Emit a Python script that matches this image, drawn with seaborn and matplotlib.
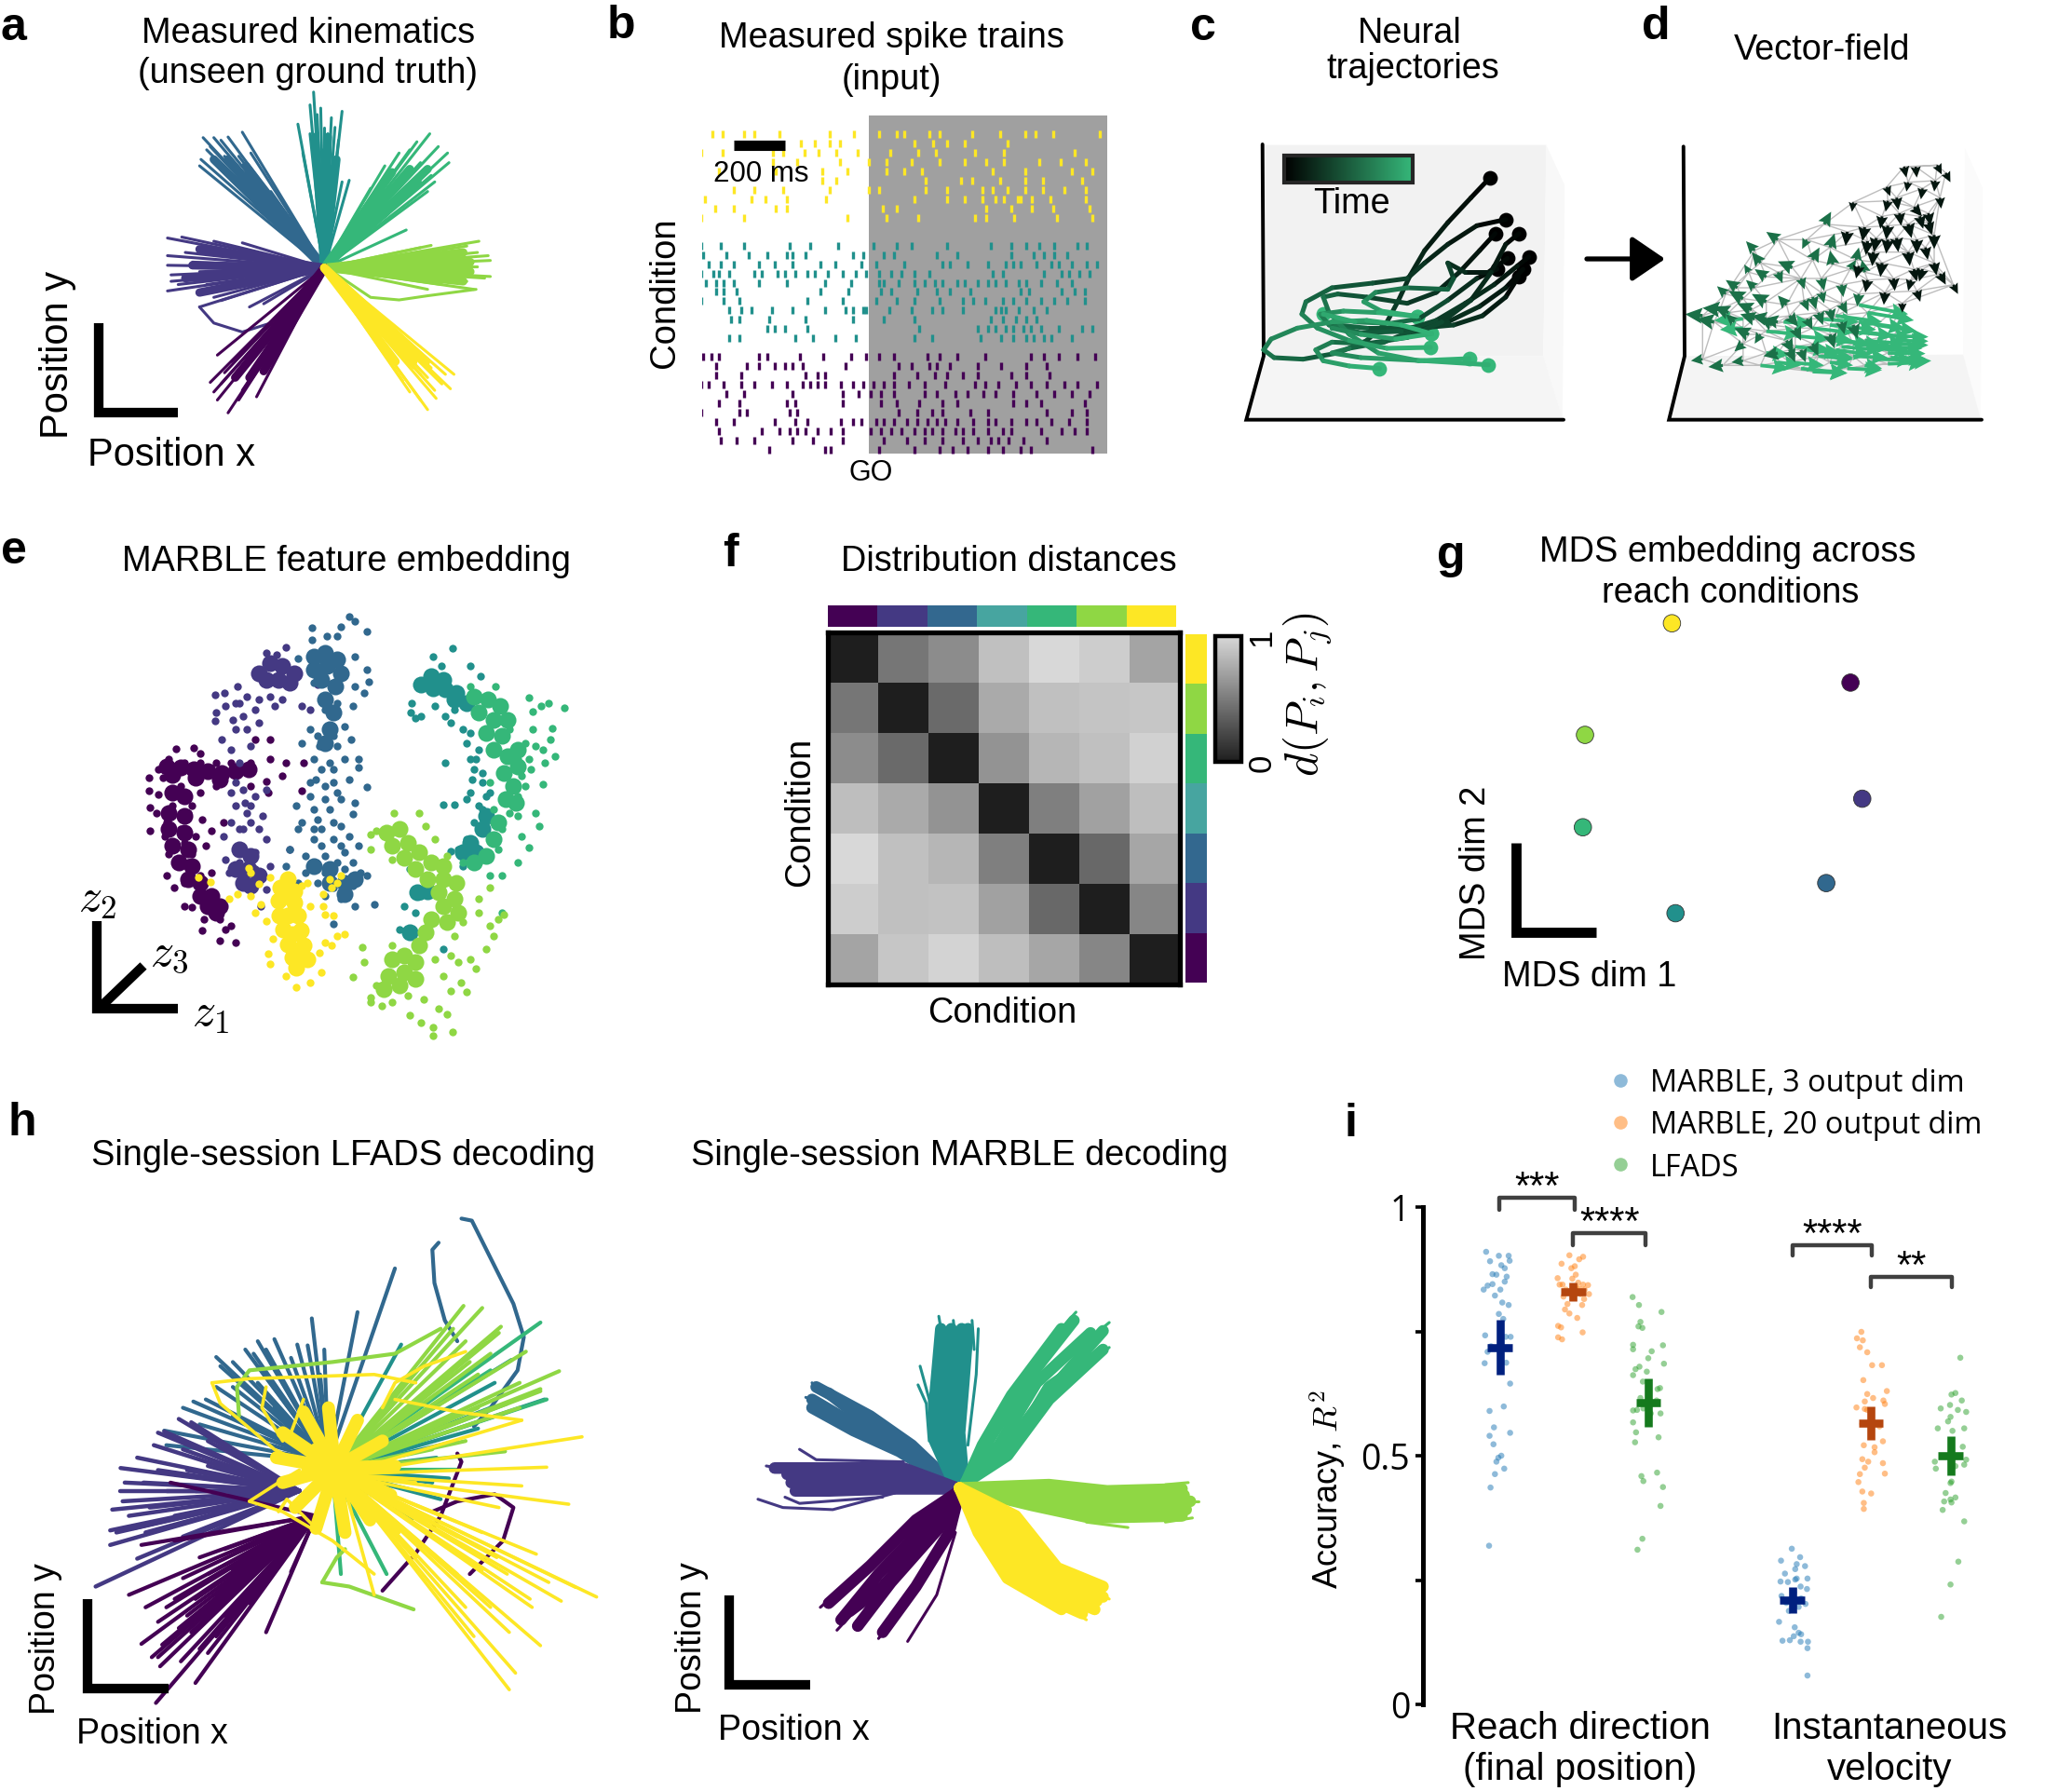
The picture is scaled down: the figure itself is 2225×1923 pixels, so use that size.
# Multi-panel figure: reach kinematics, spikes, embeddings and decoding accuracy
import numpy as np
import pandas as pd
import matplotlib
matplotlib.use("Agg")
import matplotlib.pyplot as plt
import matplotlib.tri as mtri
from matplotlib.cm import ScalarMappable
from matplotlib.colors import LinearSegmentedColormap, ListedColormap, Normalize
from matplotlib.lines import Line2D
import seaborn as sns

sns.set_style("white")
plt.rcParams["font.family"] = ["Liberation Sans", "DejaVu Sans"]
plt.rcParams["mathtext.fontset"] = "cm"
plt.rcParams["text.color"] = "black"
plt.rcParams["ytick.color"] = "black"

W, H = 2225, 1924

PURPLE = "#440154"
INDIGO = "#443983"
BLUE = "#31688e"
TEAL = "#21908c"
GREEN = "#35b779"
LGREEN = "#8fd744"
YELLOW = "#fde725"

# panel a: reach end points
a_origin = (455, 838)
a_blue = [(285,432),(300,432),(340,415),(282,500),(290,470),(310,440),(335,490),(280,520),(320,430),(295,460),(352,480),(300,510),(380,600),(315,490),(345,540)]
a_teal = [(440,290),(418,390),(480,350),(465,370),(450,340),(435,330),(455,400),(470,400),(425,480),(490,565),(480,570),(445,360),(460,420),(475,440),(435,420),(452,470)]
a_green = [(603,420),(585,445),(615,460),(628,480),(630,510),(610,570),(600,600),(560,480),(540,520),(520,590),(575,470),(590,510),(570,720),(545,670),(500,700),(605,550),(565,560),(550,600),(590,570)]
a_lgreen = [(672,755),(655,770),(605,768),(590,775),(685,800),(688,815),(670,835),(680,870),(688,865),(665,905),(640,860),(620,890),(650,810),(610,800),(600,905),(630,840),(670,790),(655,880),(600,850)]
a_yellow = [(600,1280),(575,1225),(632,1215),(637,1170),(620,1200),(610,1220),(590,1250),(600,1180),(590,1170),(625,1170),(565,1190),(612,1245),(580,1150),(605,1150)]
a_purple = [(295,1195),(320,1290),(305,1110),(310,1200),(335,1250),(305,1250),(325,1130),(340,1220),(300,1225),(360,1240),(315,1165),(350,1180),(330,1180),(370,1160)]
a_indigo = [(235,745),(255,742),(300,755),(235,830),(240,880),(235,910),(280,960),(260,790),(280,850),(250,890),(340,760),(310,780),(300,930),(350,960),(310,940),(370,950),(235,800),(270,820),(290,890),(330,830),(240,860)]
a_indigo_curve = [[(280,960),(300,1010),(340,1038),(380,1010),(440,880)]]
a_lgreen_curve = [[(470,855),(520,930),(560,938),(600,925),(668,905)]]
# solid middle of each bundle
a_blue_body = [(300,500),(320,500),(345,520)]
a_teal_body = [(442,430),(460,430),(472,500)]
a_green_body = [(550,540),(575,530),(600,530)]
a_lgreen_body = [(650,790),(660,820),(660,850),(650,880)]
a_yellow_body = [(555,1130),(580,1130),(598,1130)]
a_purple_body = [(330,1180),(350,1180),(370,1160)]
a_indigo_body = [(280,780),(270,830),(260,870),(280,915)]

# panel b: spike times (ms from GO), one list per trial
b_yellow = [
    [-616,-574,-490,-448,-350,-154,-56,42,112,140,238,280,406,518,616,658,728,910],
    [-266,-210,-154,-112,182,252,308,378,546],
    [-658,-574,-378,-336,-252,-196,-126,-42,84,196,266,420,532,812],
    [-378,-280,-112,0,70,168,280,378,462,532,672,756,854],
    [-588,-364,-182,-84,70,140,210,490,616,798,882],
    [-182,-126,224,364,406,518,616,686,840],
    [-532,-448,-336,-154,0,42,224,308,448,490,546,616,686,770,854],
    [-644,-462,-406,-322,-168,182,308,378,448,532,588,644,714,854,500,600],
    [-602,-532,-364,-322,56,112,462,560,644,728,868],
    [-658,-490,-84,70,196,420,462,574,742,882],
]
b_teal = [
    [-660,-580,-490,-310,-230,-120,20,110,170,310,480,560,620,670,730,820,860],
    [-650,-560,-470,-400,-320,-300,-250,-60,-20,60,100,270,350,560,650,690,730,780],
    [-630,-580,-530,-430,-370,-300,-190,-130,-30,30,140,290,320,390,470,540,570,600,660,720,750,800,860,900],
    [-660,-610,-590,-550,-450,-420,-360,-330,-290,-240,-210,-160,-100,-50,-10,40,90,130,180,240,490,530,690,760,790,830,870],
    [-640,-600,-570,-530,-430,-320,-170,-70,40,60,120,180,220,260,290,350,380,430,470,500,540,590,620,680,740,800],
    [-600,-570,-520,-190,-80,50,90,190,270,320,400,600,630,760,810,850],
    [-660,-570,-510,-240,-100,30,110,180,280,370,410,460,530,570,620,680,730,780,850],
    [-550,-500,-460,-380,-300,-170,-90,-60,-20,-10,80,170,250,290,370,500,520,540,590,650,700],
    [-540,-510,-390,-250,-60,60,180,480,530,580,620,660],
    [-400,-370,-330,-240,200,430,470,500,540,570,610,640,680,750,840,880],
    [-550,-510,-290,-220,-130,-50,180,250,440,520,570,620,650,690,720,800],
]
b_purple = [
    [-650,-620,-590,-430,-400,-270,-180,-70,-10,40,100,230,280,350,460,640,690,750,820,890],
    [-600,-480,-430,-370,-330,-300,-260,-90,120,170,240,270,320,430,520,620,700],
    [-600,-500,-250,-200,-170,100,190,260,310,370,430,560,620,710],
    [-660,-630,-570,-500,-450,-380,-320,-260,-230,-200,-170,-110,-60,-20,20,60,100,160,220,300,420,460,510,580,640,700,770,820,900],
    [-560,-490,-300,-100,-40,10,50,100,220,270,340,390,450,500,570,660,730,800,870],
    [-590,-510,-320,-290,-100,50,110,200,290,350,570,620,680,850],
    [-660,-510,-480,-310,-280,120,190,250,290,400,470,700,800,860],
    [-600,-530,-370,-290,-240,-110,-60,-30,30,60,100,150,190,230,270,300,350,410,470,500,560,620,660,720,790,860],
    [-590,-420,-350,-310,-280,-250,-200,-150,-100,10,50,90,130,180,220,250,290,340,370,410,470,530,560,680,760,810,860],
    [-580,-520,-450,-300,-220,-100,60,150,220,290,370,430,480,510,550,610,700],
    [-390,-170,-150,40,180,280,330,390,470,530,600,640,880],
]
b_first_row = [0, 12, 24]

# panel c: neural trajectories, start (dark) to end (green)
c_tracks = [
    [(563,575),(530,640),(490,720),(450,810),(425,890),(405,970),(385,1040),(350,1100),(300,1140),(240,1160),(190,1155),(172,1130),(185,1095),(230,1060),(290,1040),(350,1035),(410,1050),(462,1078)],
    [(590,710),(540,730),(490,790),(450,850),(420,900),(360,915),(290,930),(245,975),(238,1015),(265,1060),(320,1100),(385,1125),(460,1122)],
    [(572,755),(545,810),(510,880),(470,945),(420,980),(350,960),(300,950),(275,960),(285,1010),(320,1080),(370,1140),(440,1165),(527,1158)],
    [(613,755),(590,790),(565,880),(530,970),(480,1040),(420,1090),(350,1110),(290,1105),(262,1130),(275,1165),(320,1182),(372,1190)],
    [(593,835),(560,880),(520,880),(490,850),(500,900),(490,935),(420,930),(365,945),(345,975),(375,1005),(437,1022)],
    [(630,830),(610,860),(570,920),(520,980),(470,1035),(410,1070),(340,1075),(285,1050),(270,1015),(310,1005),(370,1010),(437,1022)],
    [(575,870),(540,900),(490,970),(440,1030),(390,1045),(330,1040),(275,1015)],
    [(620,870),(590,930),(545,990),(490,1040),(420,1060),(350,1060),(300,1050),(290,1060),(340,1080),(400,1095),(462,1078)],
    [(612,895),(590,960),(550,1020),(500,1050),(440,1060),(380,1105),(320,1125),(290,1140),(340,1155),(450,1165),(560,1178)],
]

# panel d: vector field, grouped by time
d_top_x = [1278,1298,1335,1350,1332,1340,1248,1285,1295,1250,1190,1210,1250,1285,1320,1300,1250,1225,1285,1330,1330,1310,1340,1363,1290,1245,1275,1215,1265,1310,1320,1240,1270,1305,1230,1265,1215,1240,1295,1315,1200,1180,1260,1300]
d_top_y = [540,540,535,560,585,640,605,590,670,650,655,735,730,725,720,775,775,815,815,760,850,870,885,920,905,945,980,905,640,610,690,700,690,700,770,770,780,850,870,800,860,750,900,940]
d_top_u = [4,2,8,8,-2,2,6,-3,14,-4,-2,-4,-3,6,6,0,-3,-2,3,0,4,-6,10,8,-5,-2,0,-4,3,-3,4,-3,3,6,-4,3,-3,-3,5,4,-5,-3,2,6]
d_top_v = [35,35,30,30,35,35,30,30,30,35,30,45,45,45,40,45,45,45,45,45,40,40,35,30,35,40,30,40,40,35,40,40,40,40,45,45,45,45,40,40,40,45,40,35]
d_mid_x = [1140,1110,1060,1020,1010,1040,1020,1085,1120,1155,1185,970,1000,960,1040,1075,1105,1135,1015,985,1040,1080,1110,1150,1170,1210,1195,1150,1075,1100,930,965,1000,1060,1200,1170,1135,1100,1060,1030,1170,1130,1090,1050,1010,975,950,930,1190,1150,1120,1080,1030,1000,1060,1120,990,1020]
d_mid_y = [725,775,775,810,880,895,930,865,840,855,870,950,965,1000,975,985,970,945,1000,1040,1030,1020,1030,1000,980,880,840,800,1100,1130,1160,1180,1165,1140,950,920,900,900,880,850,1040,1010,1060,1050,1080,1010,1040,1020,1050,1080,1110,1130,1080,1110,1040,960,930,1030]
d_mid_u = [12,-8,-20,-15,-8,-20,-15,-25,12,-5,10,-15,-25,-30,-25,-15,8,5,-25,-15,-25,15,10,5,10,-5,5,8,12,8,-20,-25,-20,-25,-3,3,5,6,8,-15,5,8,10,-20,-25,-25,-30,-30,8,8,10,10,-10,-15,-25,6,-20,-25]
d_mid_v = [-40,30,-25,-30,-25,-25,-25,-20,-40,-45,-30,-25,-25,-5,-25,-30,35,35,-20,-25,-10,35,35,40,35,-40,-40,-45,40,40,5,5,5,10,40,40,40,35,35,-35,40,40,40,-20,-20,-20,-10,-5,45,45,40,40,30,25,-10,40,-25,-15]
d_low_x = [1200,1215,1150,1180,1250,1260,1250,1270,1100,1150,1210,1060,1000,1130,1190,1230,1120,1170,1220,1160,1040,1090,1070,1140,1040,1000,1230,1200,1160,1130,1090,1240,1210,1170,1130,1255,1225,1190,1150,1110,1080,1030,1180,1250,1260,1120]
d_low_y = [985,1010,1050,1070,1085,1110,1140,1170,1190,1170,1180,1170,1030,1030,1110,1125,1060,1100,1075,1130,1070,1085,1040,1145,1140,1060,1050,1040,1020,1090,1120,1120,1100,1120,1150,1155,1160,1150,1100,1130,1170,1180,1190,1175,1100,1200]
d_low_u = [85,80,80,80,70,60,65,55,80,40,30,40,-50,70,70,60,70,70,70,60,60,60,50,50,40,-40,70,80,80,60,60,70,70,70,60,60,70,60,70,60,60,50,60,65,60,60]
d_low_v = [30,25,15,15,3,5,2,-5,15,10,10,10,5,10,10,10,15,15,15,15,10,10,5,10,5,5,20,20,20,10,10,5,10,10,10,2,2,5,10,10,10,10,5,-5,2,5]

# panel e: embedding points, plus heavier markers for the densest clumps
e_purple = [(380,745),(380,785),(383,835),(382,905),(405,720),(430,690),(450,658),(493,655),(510,672),(415,745),(440,735),(470,700),(510,700),(550,700),(590,700),(640,700),(690,690),(730,700),(775,700),(680,755),(720,740),(770,785),(405,795),(440,800),(470,810),(510,790),(550,770),(400,850),(440,830),(480,850),(515,870),(425,880),(460,900),(500,920),(540,905),(570,880),(420,920),(450,950),(490,975),(525,950),(430,975),(455,1010),(500,1005),(540,1030),(425,1040),(470,1060),(510,1080),(445,1075),(470,1130),(490,1135),(520,1170),(560,1170),(590,1190),(515,1205),(560,1235),(600,1240),(575,1200),(690,630),(650,630),(640,770),(685,790),(460,770),(490,830),(440,860),(470,940),(510,1040),(480,1000)]
e_purple_core = [(425,710),(460,715),(495,720),(530,725),(565,730),(600,725),(635,720),(440,735),(500,745),(560,750),(440,790),(470,800),(430,850),(470,860),(430,900),(470,910),(440,950),(480,960),(455,1000),(490,1010),(480,1050),(510,1060),(510,1100),(540,1100),(530,1130),(560,1130),(550,1150)]
e_indigo = [(548,495),(572,490),(550,550),(548,575),(575,530),(605,470),(600,520),(595,570),(630,500),(650,540),(690,500),(720,510),(770,530),(790,540),(600,600),(630,600),(565,630),(590,660),(640,650),(610,700),(590,790),(620,780),(650,800),(680,780),(600,830),(630,850),(670,860),(590,880),(620,900),(660,900),(680,930),(570,920),(610,950),(650,970),(575,990),(610,1000),(650,1020),(690,1010),(585,1030),(620,1060),(660,1060),(640,1010),(740,960),(810,465),(680,370),(730,352),(705,375),(620,1040),(680,1080),(665,1130),(620,560),(660,580),(625,820),(640,880),(610,520),(700,530),(660,510),(600,760),(640,830),(610,900)]
e_indigo_core = [(660,430),(690,400),(720,410),(750,430),(680,450),(710,450),(740,460),(610,960),(640,980),(600,1020),(635,1020),(620,1060),(660,1040),(640,1070)]
e_blue = [(890,260),(905,275),(935,305),(795,295),(795,330),(870,290),(835,320),(860,320),(760,385),(905,380),(935,420),(940,455),(930,490),(905,470),(800,460),(830,540),(860,520),(900,530),(790,600),(840,600),(880,590),(770,640),(815,650),(860,650),(895,630),(800,690),(840,700),(880,690),(915,690),(915,715),(805,750),(850,760),(890,750),(935,772),(755,830),(790,800),(830,810),(870,810),(905,820),(770,880),(810,870),(850,880),(900,855),(760,900),(800,930),(850,930),(890,920),(740,960),(780,980),(830,980),(880,970),(915,950),(730,1010),(780,1030),(830,1030),(880,1020),(920,1030),(760,1060),(810,1060),(850,1075),(900,1070),(935,1040),(830,1100),(870,1110),(905,1130),(955,1125),(850,1185),(820,720),(860,790),(820,900),(860,1000),(800,1000),(830,770),(840,840),(800,840),(870,890),(800,900),(870,950),(820,950),(790,760),(850,720),(810,620),(850,620),(900,1000)]
e_blue_core = [(800,380),(830,370),(860,390),(800,420),(835,410),(870,430),(820,450),(855,470),(830,510),(850,550),(840,600),(830,640),(800,1010),(840,1020),(880,1060),(880,1095),(905,1050),(840,1060)]
e_teal = [(1155,355),(1105,380),(1125,410),(1200,410),(1225,440),(1050,520),(1047,550),(1060,565),(1075,560),(1110,530),(1135,560),(1150,580),(1180,600),(1190,640),(1200,690),(1135,700),(1210,720),(1230,760),(1200,790),(1190,810),(1130,825),(1160,825),(1220,830),(1250,870),(1210,880),(1190,930),(1170,960),(1150,965),(1230,970),(1180,1010),(1045,1020),(1030,1130),(1060,1150),(1020,1200),(1095,1160),(1130,1260),(1075,1100),(1240,800),(1215,690),(1160,540),(1230,730),(1200,610),(1220,660),(1205,750),(1250,790),(1230,840)]
e_teal_core = [(1075,465),(1105,475),(1135,480),(1165,490),(1100,440),(1130,450),(1160,510),(1190,520),(1065,1090),(1090,1085),(1200,940),(1230,900),(1180,970),(1215,970),(1240,860),(1045,1210)]
e_green = [(1440,535),(1400,520),(1380,530),(1350,505),(1360,545),(1410,595),(1405,630),(1385,660),(1415,680),(1360,600),(1365,650),(1390,700),(1355,720),(1385,765),(1340,770),(1365,850),(1375,890),(1320,860),(1330,920),(1350,955),(1320,1000),(1280,1040),(1300,600),(1320,690),(1280,730),(1300,790),(1250,760),(1300,850),(1280,900),(1220,1000),(1180,1000),(1250,1040),(1280,1150),(1265,470),(1200,470),(1330,740),(1260,840),(1340,640),(1320,800),(1350,690),(1270,960)]
e_green_core = [(1210,500),(1245,510),(1275,530),(1220,550),(1260,570),(1295,570),(1240,610),(1280,620),(1320,660),(1260,660),(1295,680),(1320,710),(1285,730),(1310,770),(1290,810),(1315,820),(1270,880),(1260,930),(1240,980),(1210,1000)]
e_lgreen = [(1005,850),(1070,850),(1085,890),(945,915),(960,905),(945,960),(1000,990),(1050,1020),(1110,930),(1140,980),(900,1345),(925,1255),(930,1300),(945,1405),(945,1420),(975,1430),(1045,1460),(1075,1480),(1105,1495),(1105,1520),(1155,1510),(1120,1440),(1140,1455),(1190,1390),(1150,1385),(1175,1360),(1215,1320),(1200,1290),(1240,1260),(1250,1190),(1270,1170),(1285,1155),(1260,1220),(1220,1150),(1170,1300),(1130,1340),(1000,1250),(1040,1400),(1000,1420),(1220,1110),(1250,1075),(960,1370),(1080,1410),(1160,1220),(1110,1290),(1150,1280),(1180,1180)]
e_lgreen_core = [(985,910),(1020,900),(1000,950),(1040,940),(1030,985),(1070,970),(1060,1020),(1100,1000),(1090,1050),(1130,1010),(1130,1050),(1165,1060),(1120,1090),(1160,1110),(1130,1130),(1170,1150),(1100,1170),(1140,1180),(1085,1210),(1070,1250),(1030,1280),(1060,1300),(1000,1290),(1030,1330),(990,1340),(1020,1370),(1060,1350),(980,1380)]
e_yellow = [(505,1045),(537,1058),(585,1108),(605,1095),(640,1100),(665,1125),(635,1015),(640,1030),(660,1065),(690,1045),(770,1070),(785,1060),(840,1050),(870,1040),(860,1060),(845,1075),(825,1095),(825,1130),(830,1155),(850,1160),(880,1215),(860,1220),(845,1250),(830,1240),(815,1270),(820,1330),(790,1360),(755,1375),(730,1340),(690,1305),(685,1275),(695,1230),(680,1175),(650,1150),(790,1130)]
e_yellow_core = [(735,1050),(715,1075),(750,1085),(710,1115),(750,1120),(712,1160),(760,1160),(722,1200),(768,1205),(735,1245),(775,1250),(745,1285),(785,1290),(755,1315),(735,1160),(745,1215),(755,1265),(730,1100)]

# panel f: pairwise distances between conditions
f_distances = [
    [0.00,0.47,0.59,0.87,1.00,0.94,0.72],
    [0.47,0.00,0.41,0.75,0.87,0.89,0.90],
    [0.59,0.41,0.00,0.63,0.82,0.87,0.96],
    [0.86,0.75,0.63,0.00,0.52,0.70,0.86],
    [1.00,0.87,0.82,0.52,0.00,0.40,0.73],
    [0.94,0.87,0.88,0.70,0.40,0.00,0.56],
    [0.72,0.90,0.97,0.86,0.73,0.56,0.00],
]
f_strip_colors = [PURPLE, INDIGO, "#33688f", "#47a5a0", GREEN, LGREEN, YELLOW]

# panel g: MDS positions
g_x = [772, 1273, 528, 1306, 522, 1205, 782]
g_y = [320, 505, 668, 867, 956, 1130, 1224]
g_colors = [YELLOW, PURPLE, LGREEN, INDIGO, GREEN, BLUE, TEAL]

# panel h left: LFADS decoded trajectories
hl_indigo = [(230,1130),(265,995),(265,1030),(270,945),(290,845),(290,900),(295,925),(330,1063),(330,820),(370,790),(395,757),(430,727),(460,735),(345,880),(310,960),(380,850),(350,1000),(420,960),(440,800),(400,900),(300,880),(320,990),(280,1000),(450,850),(500,780),(380,760),(470,900),(420,860),(500,840),(520,950),(360,940),(440,1010)]
hl_purple = [(375,1410),(470,1362),(385,1322),(365,1300),(340,1268),(380,1215),(350,1180),(310,1150),(640,1240),(700,1095),(340,1030),(420,1020),(435,1310),(450,1200),(520,1250),(560,1150),(600,1170),(480,1280),(420,1250),(410,880),(500,1100),(540,1200),(400,1180),(460,1240),(420,1160),(390,1270),(500,1180),(440,1110),(470,1160),(380,1300),(520,1150),(600,1100),(650,1050),(560,1090),(480,1060),(540,1040),(430,1230),(500,1290)]
hl_blue = [(520,578),(620,540),(660,535),(715,548),(610,570),(750,485),(860,470),(950,365),(465,685),(495,680),(395,755),(740,550),(560,590),(780,560),(520,650),(620,600),(680,640),(810,720),(530,600),(590,560),(640,560),(700,580),(440,700),(560,650),(660,700),(480,740),(400,790),(620,640),(560,720),(770,620)]
hl_teal = [(965,548),(1310,680),(1230,585),(1190,640),(1150,750),(1080,870),(1060,920),(990,970),(1100,780),(1180,700),(1050,820),(1000,900),(1040,880)]
hl_green = [(1300,495),(930,1100),(820,1100),(1220,690),(1100,850),(1315,680),(1180,610)]
hl_lgreen = [(1115,455),(1160,460),(1205,505),(1265,565),(1345,612),(1300,655),(1215,690),(1215,805),(1130,590),(1090,510),(1180,570),(1250,640),(1150,620),(1080,740),(1040,800),(1200,520),(1120,540),(1300,660),(1250,700),(1150,700),(1050,650),(1000,610),(1100,600),(1120,780)]
hl_yellow = [(1400,770),(1315,843),(1255,888),(1368,932),(1200,940),(1255,730),(1290,1052),(1385,1132),(1435,1155),(1350,1165),(1280,1180),(1300,1272),(1240,1338),(1225,1378),(1225,1240),(1195,1060),(1275,1160),(900,1150),(1100,1100),(1000,1060),(1160,1000),(1060,960),(1000,880),(960,1000),(1220,1100),(1180,1180),(1140,1250),(1320,1120),(1160,1090),(1120,1180),(1100,1010)]
hl_yellow_core = [(680,760),(730,710),(790,700),(860,730),(920,780),(950,840),(940,910),(890,970),(830,1000),(760,990),(710,940),(680,880),(665,820),(760,800),(850,830),(800,900),(740,850)]
hl_blue_curves = [
    [(1110,245),(1135,250),(1180,340),(1235,450),(1260,530),(1245,610),(1180,700),(1140,745)],
    [(1055,303),(1040,320),(1045,400),(1070,490),(1100,540)],
]
hl_purple_curves = [
    [(1040,950),(1100,925),(1190,908),(1235,940),(1210,1020),(1130,1100)],
    [(1100,810),(1110,830),(1060,960),(1000,1050),(920,1140)],
]
hl_lgreen_curves = [
    [(575,720),(570,650),(600,610),(800,590),(950,570),(1060,510)],
    [(775,1120),(840,1130),(995,1185)],
    [(775,1120),(810,1060),(830,1040)],
]
hl_yellow_curves = [
    [(510,640),(600,630),(750,625),(900,620),(1000,640)],
    [(510,640),(530,690),(660,800),(760,850)],
    [(600,925),(670,880),(720,850)],
    [(600,925),(680,950),(800,1020),(900,1100)],
    [(670,950),(690,920),(760,990)],
    [(950,680),(1000,690),(1100,710),(1255,730)],
    [(920,700),(950,640),(1020,600),(1120,565)],
    [(640,650),(630,700),(680,780)],
    [(730,680),(700,760),(760,840)],
]

# panel h right: MARBLE decoded trajectories
hr_yellow = [
    [(785,893),(920,960),(1020,1085),(1130,1130)],
    [(785,893),(895,970),(1000,1095),(1130,1155)],
    [(785,893),(870,980),(985,1115),(1115,1165)],
    [(785,893),(860,985),(960,1120),(1110,1185)],
    [(785,893),(845,1000),(945,1135),(1080,1195)],
    [(785,893),(830,1000),(900,1110),(1030,1185)],
]
hr_lgreen = [
    [(785,893),(1000,885),(1140,900),(1320,895)],
    [(785,893),(990,900),(1150,920),(1325,910)],
    [(785,893),(980,915),(1140,935),(1340,925)],
    [(785,893),(970,930),(1130,950),(1330,945)],
    [(785,893),(960,935),(1100,965),(1320,960)],
]
hr_green = [
    [(800,880),(840,790),(910,670),(1030,510)],
    [(800,880),(860,770),(950,630),(1060,490)],
    [(800,880),(880,790),(970,640),(1100,520)],
    [(800,880),(895,800),(985,680),(1130,515)],
    [(800,880),(900,815),(1000,680),(1130,560)],
    [(800,880),(915,790),(1000,650),(1100,580)],
]
hr_teal = [
    [(770,880),(725,780),(725,680),(740,510)],
    [(775,880),(745,760),(750,640),(765,510)],
    [(785,880),(765,760),(775,620),(790,510)],
    [(795,880),(785,760),(795,640),(805,510)],
]
hr_blue = [
    [(770,885),(670,790),(570,720),(440,650)],
    [(770,885),(660,795),(560,735),(470,665)],
    [(770,885),(650,800),(540,745),(430,680)],
    [(770,885),(640,805),(530,755),(430,700)],
]
hr_indigo = [
    [(785,895),(650,845),(480,845),(340,845)],
    [(785,895),(640,860),(470,860),(370,860)],
    [(785,895),(640,875),(470,880),(380,880)],
    [(785,895),(630,895),(470,900),(390,900)],
]
hr_purple = [
    [(785,900),(680,970),(570,1080),(470,1170)],
    [(785,900),(710,975),(590,1100),(500,1210)],
    [(785,900),(735,990),(620,1120),(540,1225)],
    [(785,900),(760,1000),(680,1130),(600,1240)],
    [(785,900),(715,1000),(600,1130),(520,1190)],
]
# thin loose strands around the bundles
hr_strands = [
    (TEAL, [(690,600),(712,680),(715,760)]), (TEAL, [(685,645),(705,690),(712,780)]),
    (TEAL, [(735,480),(745,540),(740,600)]), (TEAL, [(830,510),(825,620),(805,790)]),
    (TEAL, [(815,490),(820,560)]), (TEAL, [(770,490),(775,540)]),
    (INDIGO, [(300,920),(360,940),(480,945),(630,905)]), (INDIGO, [(400,800),(440,825),(650,830)]),
    (INDIGO, [(320,840),(380,850)]), (INDIGO, [(365,915),(400,930),(600,915)]),
    (PURPLE, [(660,1262),(730,1150),(775,1000)]), (PURPLE, [(450,1180),(530,1110)]),
    (PURPLE, [(590,1255),(650,1180)]), (PURPLE, [(490,1235),(550,1170)]),
    (GREEN, [(1145,555),(1050,620),(1000,680)]), (GREEN, [(1065,470),(1020,520)]),
    (GREEN, [(1145,495),(1090,540)]), (BLUE, [(430,640),(470,670)]), (BLUE, [(415,675),(460,690)]),
    (LGREEN, [(1335,880),(1280,885)]), (LGREEN, [(1360,925),(1310,925)]), (LGREEN, [(1345,965),(1280,975)]),
    (LGREEN, [(1190,988),(1090,975)]), (YELLOW, [(1145,1160),(1100,1140)]), (YELLOW, [(1090,1210),(1040,1180)]),
]

# panel i: R2 per session
i_x_blue1 = [372,418,398,380,420,403,410,385,393,414,410,385,375,367,401,390,405,418,398,407,370,422,412,382,375,413,369,421,408,379,388,421,379,387,403,397,393,409,390,381,378]
i_y_blue1 = [.91,.902,.902,.891,.892,.883,.877,.865,.864,.860,.85,.845,.842,.834,.834,.822,.808,.803,.785,.775,.742,.739,.739,.72,.709,.687,.686,.645,.599,.59,.557,.546,.54,.523,.5,.496,.488,.474,.463,.436,.319]
i_x_orange1 = [542,570,562,526,553,546,518,555,548,528,522,560,580,570,562,573,582,572,530,538,568,533,542,558,519,525,569,519,527,550,540,565,535,555]
i_y_orange1 = [.903,.900,.895,.886,.881,.877,.857,.864,.856,.844,.844,.848,.843,.844,.836,.834,.825,.815,.820,.805,.803,.794,.786,.777,.761,.758,.748,.738,.734,.839,.829,.825,.834,.839]
i_x_green1 = [671,684,730,687,683,691,672,733,672,710,703,735,685,677,672,700,692,727,722,704,687,720,680,693,672,708,728,672,678,724,676,721,689,693,733,728,691,681]
i_y_green1 = [.819,.803,.789,.769,.760,.757,.723,.722,.714,.710,.696,.685,.679,.674,.662,.669,.649,.636,.634,.635,.616,.611,.592,.595,.591,.585,.585,.567,.547,.537,.527,.466,.459,.449,.437,.399,.333,.311]
i_x_blue2 = [996,1013,974,1006,1023,1003,982,1006,1028,1003,973,988,1014,1027,1000,975,1024,1010,990,1000,970,1002,1010,1015,1000,977,992,1014,1029,1028,1028,985,1015]
i_y_blue2 = [.313,.296,.289,.282,.278,.272,.263,.253,.253,.251,.247,.246,.237,.232,.225,.218,.202,.196,.188,.209,.166,.155,.144,.141,.137,.128,.129,.126,.126,.113,.058,.204,.213]
i_x_orange2 = [1138,1129,1141,1135,1150,1160,1180,1142,1190,1150,1162,1183,1145,1128,1145,1186,1140,1175,1143,1165,1182,1140,1152,1182,1145,1135,1186,1132,1140,1158,1143,1143,1165,1150]
i_y_orange2 = [.749,.736,.732,.718,.708,.682,.682,.652,.630,.624,.616,.611,.609,.597,.594,.604,.564,.559,.521,.507,.529,.493,.488,.485,.476,.463,.464,.447,.428,.424,.405,.393,.517,.592]
i_x_green2 = [1340,1330,1322,1300,1319,1343,1335,1352,1320,1315,1294,1324,1348,1345,1288,1352,1348,1290,1330,1322,1320,1310,1330,1320,1307,1322,1304,1348,1336,1320,1301]
i_y_green2 = [.697,.626,.623,.595,.602,.611,.592,.588,.578,.569,.555,.550,.555,.518,.488,.492,.482,.474,.479,.448,.445,.425,.416,.412,.408,.406,.391,.368,.287,.241,.176]

i_mean_x = [400, 550, 703, 997, 1158, 1320]
i_mean_y = [0.7175, 0.829, 0.607, 0.21, 0.565, 0.50]
i_sem_y = [0.055, 0.019, 0.049, 0.026, 0.034, 0.039]
i_mean_colors = ["#00207f", "#b5460f", "#157a1d", "#00207f", "#b5460f", "#157a1d"]
i_methods = ["MARBLE, 3 output dim", "MARBLE, 20 output dim", "LFADS"]
i_dot_colors = ["#1f77b4", "#ff7f0e", "#2ca02c"]

i_bracket_left = [398, 549, 997, 1158]
i_bracket_right = [552, 698, 1160, 1322]
i_bracket_top = [1.019, 0.948, 0.924, 0.860]
i_bracket_foot = [0.995, 0.924, 0.903, 0.839]
i_stars = ["***", "****", "****", "**"]


def panel_ax(x0, y0, x1, y1, xlim=None, ylim=None, off=True):
    ax = fig.add_axes([x0 / W, 1 - y1 / H, (x1 - x0) / W, (y1 - y0) / H])
    ax.patch.set_alpha(0)
    ax.set_xlim(xlim if xlim else (x0, x1))
    ax.set_ylim(ylim if ylim else (y1, y0))
    if off:
        ax.axis("off")
    return ax


def fan_frame(tips, origin, extra=()):
    rows = []
    for i, tip in enumerate(tips):
        rows += [(i, origin[0], origin[1]), (i, tip[0], tip[1])]
    for j, track in enumerate(extra):
        rows += [(len(tips) + j, x, y) for x, y in track]
    return pd.DataFrame(rows, columns=["trace", "x", "y"])


def draw_traces(ax, frame, color, lw):
    sns.lineplot(data=frame, x="x", y="y", units="trace", estimator=None, sort=False,
                 color=color, lw=lw, legend=False, ax=ax)


def l_bar(x0, y0, x1, y1, lw=7.4):
    page.plot([x0, x0, x1], [y0, y1, y1], color="k", lw=lw,
              solid_joinstyle="miter", solid_capstyle="butt")


def label(x, y, s, size=27.3, rotation=0, **kw):
    # text boxes sit a touch off the optical centre
    if rotation:
        x += 3
    else:
        y += 3
    page.text(x, y, s, fontsize=size, rotation=rotation, ha="center", va="center", **kw)


fig = plt.figure(figsize=(W / 100, H / 100), dpi=100)
ZOOM = (0, 1568)
ZOOM_INV = (1568, 0)

# --- a
ax_a = panel_ax(0, 0, 1200, 540, ZOOM, ZOOM_INV)
for tips, body, col, extra in [(a_blue, a_blue_body, BLUE, ()), (a_teal, a_teal_body, TEAL, ()),
                               (a_green, a_green_body, GREEN, ()),
                               (a_lgreen, a_lgreen_body, LGREEN, a_lgreen_curve),
                               (a_indigo, a_indigo_body, INDIGO, a_indigo_curve),
                               (a_purple, a_purple_body, PURPLE, ()), (a_yellow, a_yellow_body, YELLOW, ())]:
    draw_traces(ax_a, fan_frame(tips, a_origin, extra), col, 2.2)
    draw_traces(ax_a, fan_frame(body, a_origin), col, 6.5)

# --- b
ax_b = panel_ax(754, 125, 1189, 488, (-655, 939), (34.4, -2.0))
ax_b.axvspan(0, 939, color="#a0a0a0", lw=0)
for trains, first, col in zip([b_yellow, b_teal, b_purple], b_first_row, [YELLOW, TEAL, PURPLE]):
    spikes = pd.DataFrame([(t, first + r) for r, train in enumerate(trains) for t in train],
                          columns=["time", "trial"])
    sns.scatterplot(data=spikes, x="time", y="trial", marker="|", s=30, linewidth=2.4,
                    color=col, legend=False, ax=ax_b)

# --- c and d share one frame
time_cmap = LinearSegmentedColormap.from_list("time", ["#000000", "#125c3c", GREEN])
ax_cd = panel_ax(1250, 0, 2225, 480, ZOOM, (1440, 0))
ax_cd.fill([170, 660, 655, 170], [470, 470, 1150, 1150], color="#f2f2f2", lw=0)
ax_cd.fill([660, 692, 688, 655], [470, 600, 1350, 1150], color="#f8f8f8", lw=0)
ax_cd.fill([170, 655, 688, 140], [1150, 1150, 1350, 1350], color="#f5f5f5", lw=0)
ax_cd.plot([170, 172, 142, 690], [468, 1150, 1355, 1355], color="k", lw=2.8, solid_joinstyle="miter")

segments = []
for n, track in enumerate(c_tracks):
    for k in range(len(track) - 1):
        part = (k + 0.5) / (len(track) - 1)
        segments.append((f"{n}-{k}", track[k][0], track[k][1], part))
        segments.append((f"{n}-{k}", track[k + 1][0], track[k + 1][1], part))
segments = pd.DataFrame(segments, columns=["segment", "x", "y", "time"])
sns.lineplot(data=segments, x="x", y="y", units="segment", hue="time", palette=time_cmap,
             hue_norm=(0, 1), estimator=None, sort=False, lw=3.6, legend=False, ax=ax_cd)
c_starts = pd.DataFrame([t[0] for t in c_tracks], columns=["x", "y"])
c_ends = pd.DataFrame([t[-1] for t in c_tracks], columns=["x", "y"])
sns.scatterplot(data=c_starts, x="x", y="y", color="#000000", s=130, linewidth=0, ax=ax_cd)
sns.scatterplot(data=c_ends, x="x", y="y", color=GREEN, s=130, linewidth=0, ax=ax_cd)

cax_c = panel_ax(1379, 168, 1517, 197, (0, 1), (0, 1), off=False)
cb_time = fig.colorbar(ScalarMappable(Normalize(0, 1), LinearSegmentedColormap.from_list("bar", ["#000000", GREEN])),
                       cax=cax_c, orientation="horizontal")
cb_time.set_ticks([])
cb_time.outline.set_linewidth(3)

ax_cd.fill([1383, 1414, 1410, 1380], [480, 610, 1350, 1145], color="#fbfbfb", lw=0)
ax_cd.fill([897, 1380, 1410, 870], [1150, 1145, 1350, 1350], color="#f4f4f4", lw=0)
ax_cd.plot([897, 899, 872, 1412], [475, 1150, 1355, 1355], color="k", lw=2.8, solid_joinstyle="miter")

d_nodes_x = np.array(d_top_x + d_mid_x + d_low_x, dtype=float)
d_nodes_y = np.array(d_top_y + d_mid_y + d_low_y, dtype=float)
mesh = mtri.Triangulation(d_nodes_x, d_nodes_y)
edge_x = d_nodes_x[mesh.triangles] / 1.6
edge_y = d_nodes_y[mesh.triangles] / 3.0
edge_len = np.hypot(edge_x - np.roll(edge_x, 1, axis=1), edge_y - np.roll(edge_y, 1, axis=1))
mesh.set_mask(edge_len.max(axis=1) > 60)
ax_cd.triplot(mesh, color="#bdbdbd", lw=1.0)
for xs, ys, us, vs, col in [(d_low_x, d_low_y, d_low_u, d_low_v, GREEN),
                            (d_mid_x, d_mid_y, d_mid_u, d_mid_v, "#1b7048"),
                            (d_top_x, d_top_y, d_top_u, d_top_v, "#04160f")]:
    ax_cd.quiver(xs, ys, us, vs, color=col, angles="xy", scale_units="xy", scale=1,
                 units="dots", width=3.8, headwidth=4.5, headlength=4.8, headaxislength=4.2)

# --- e
ax_e = panel_ax(0, 570, 660, 1130, ZOOM, ZOOM_INV)
for pts, core, col in [(e_purple, e_purple_core, PURPLE), (e_indigo, e_indigo_core, INDIGO),
                       (e_blue, e_blue_core, BLUE), (e_teal, e_teal_core, TEAL),
                       (e_green, e_green_core, GREEN), (e_lgreen, e_lgreen_core, LGREEN),
                       (e_yellow, e_yellow_core, YELLOW)]:
    frame = pd.DataFrame(pts, columns=["x", "y"])
    sns.scatterplot(data=frame, x="x", y="y", color=col, s=36, linewidth=0, ax=ax_e)
    frame = pd.DataFrame(core, columns=["x", "y"])
    sns.scatterplot(data=frame, x="x", y="y", color=col, s=170, linewidth=0, ax=ax_e)

# --- f
gray_cmap = LinearSegmentedColormap.from_list("dist", ["#1e1e1e", "#d8d8d8"])
ax_f = panel_ax(889, 680, 1267, 1058, off=False)
cax_f = panel_ax(1305, 684, 1333, 819, (0, 1), (0, 1), off=False)
sns.heatmap(np.array(f_distances), vmin=0, vmax=1, cmap=gray_cmap, ax=ax_f, cbar_ax=cax_f,
            xticklabels=False, yticklabels=False)
for spine in ax_f.spines.values():
    spine.set_visible(True)
    spine.set_linewidth(3.8)
    spine.set_color("k")
cb_dist = ax_f.collections[0].colorbar
cb_dist.outline.set_visible(True)
cb_dist.outline.set_linewidth(3.2)
cb_dist.outline.set_edgecolor("k")
cb_dist.set_ticks([0, 1], labels=["0", "1"])
cax_f.tick_params(length=0, labelsize=25, labelrotation=90, pad=4)
for tick in cax_f.get_yticklabels():
    tick.set_va("center")

strip_cmap = ListedColormap(f_strip_colors)
ax_top = panel_ax(889, 651, 1263, 674, off=False)
sns.heatmap(np.arange(7).reshape(1, 7), cmap=strip_cmap, cbar=False, ax=ax_top,
            xticklabels=False, yticklabels=False)
ax_side = panel_ax(1273, 682, 1296, 1056, off=False)
sns.heatmap(np.arange(7)[::-1].reshape(7, 1), cmap=strip_cmap, cbar=False, ax=ax_side,
            xticklabels=False, yticklabels=False)

# --- g
ax_g = panel_ax(1500, 560, 2100, 1100, ZOOM, ZOOM_INV)
mds = pd.DataFrame({"x": g_x, "y": g_y, "c": g_colors})
sns.scatterplot(data=mds, x="x", y="y", hue="c", palette=dict(zip(g_colors, g_colors)), s=180,
                edgecolor="#333333", linewidth=0.6, legend=False, ax=ax_g)

# --- h
ax_hl = panel_ax(0, 1200, 700, 1900, ZOOM, ZOOM_INV)
draw_traces(ax_hl, fan_frame(hl_blue, (790, 830), hl_blue_curves), BLUE, 3)
draw_traces(ax_hl, fan_frame(hl_teal, (800, 850)), TEAL, 3)
draw_traces(ax_hl, fan_frame(hl_green, (800, 850)), GREEN, 3)
draw_traces(ax_hl, fan_frame(hl_indigo, (720, 900)), INDIGO, 3.2)
draw_traces(ax_hl, fan_frame(hl_purple, (760, 960), hl_purple_curves), PURPLE, 3)
draw_traces(ax_hl, fan_frame(hl_lgreen, (800, 850), hl_lgreen_curves), LGREEN, 3)
draw_traces(ax_hl, fan_frame(hl_yellow, (820, 860), hl_yellow_curves), YELLOW, 2.6)
draw_traces(ax_hl, fan_frame(hl_yellow_core, (805, 845)), YELLOW, 10)

ax_hr = panel_ax(680, 1200, 1380, 1900, ZOOM, ZOOM_INV)
for tracks, col in [(hr_blue, BLUE), (hr_teal, TEAL), (hr_green, GREEN), (hr_lgreen, LGREEN),
                    (hr_indigo, INDIGO), (hr_purple, PURPLE), (hr_yellow, YELLOW)]:
    draw_traces(ax_hr, fan_frame([], (0, 0), tracks), col, 9)
for col, strand in hr_strands:
    draw_traces(ax_hr, fan_frame([], (0, 0), [strand]), col, 2.2)

# --- i
ax_i = panel_ax(1528, 1297, 2225, 1831, (243, 1568), (0, 1), off=False)
i_frames = []
for method, xs, ys in [(i_methods[0], i_x_blue1, i_y_blue1), (i_methods[1], i_x_orange1, i_y_orange1),
                       (i_methods[2], i_x_green1, i_y_green1), (i_methods[0], i_x_blue2, i_y_blue2),
                       (i_methods[1], i_x_orange2, i_y_orange2), (i_methods[2], i_x_green2, i_y_green2)]:
    i_frames.append(pd.DataFrame({"x": xs, "y": ys, "method": method}))
sns.scatterplot(data=pd.concat(i_frames), x="x", y="y", hue="method", hue_order=i_methods,
                palette=i_dot_colors, s=22, alpha=0.5, linewidth=0, legend=False, clip_on=False, ax=ax_i)
for x, y, err, col in zip(i_mean_x, i_mean_y, i_sem_y, i_mean_colors):
    ax_i.errorbar(x, y, yerr=err, xerr=25, color=col, elinewidth=6.2, capsize=0, zorder=5)
for x0, x1, top, foot, stars in zip(i_bracket_left, i_bracket_right, i_bracket_top, i_bracket_foot, i_stars):
    ax_i.plot([x0, x0, x1, x1], [foot, top, top, foot], color="#404040", lw=3.2, clip_on=False)
    ax_i.text((x0 + x1) / 2, top + 0.02, stars, fontsize=30, ha="center", va="center", clip_on=False)
sns.despine(ax=ax_i, bottom=True)
ax_i.spines["left"].set_linewidth(3.6)
ax_i.spines["left"].set_color("k")
ax_i.set_xticks([])
ax_i.set_yticks([0, 0.25, 0.5, 0.75, 1])
ax_i.set_yticklabels(["0", "", "0.5", "", "1"], fontsize=27, family="Open Sans")
ax_i.tick_params(axis="y", left=True, length=6, width=2.6, color="k", pad=4)
ax_i.set_xlabel("")
ax_i.set_ylabel("")
handles = [Line2D([], [], marker="o", ls="", color=c, alpha=0.5, markersize=10.5, markeredgewidth=0)
           for c in i_dot_colors]
fig.legend(handles, i_methods, loc="upper left", bbox_to_anchor=(1717 / W, 1 - 1147 / H), frameon=False,
           prop={"family": "Open Sans", "size": 23.4}, labelspacing=0.38, handletextpad=0.3, handlelength=1.4,
           borderpad=0, borderaxespad=0)

# --- overlay text and scale bars, in reference pixels
page = panel_ax(0, 0, W, H)
page.set_zorder(20)

for x, y, s in [(14, 30, "a"), (667, 28, "b"), (1292, 30, "c"), (1778, 29, "d"), (15, 592, "e"),
                (784, 595, "f"), (1558, 597, "g"), (24, 1206, "h"), (1450, 1207, "i")]:
    page.text(x, y, s, fontsize=36, fontweight="bold", ha="center", va="center")

label(331, 33, "Measured kinematics")
label(331, 76, "(unseen ground truth)")
label(59, 381, "Position y", size=30, rotation=90)
label(184, 486, "Position x", size=30)
l_bar(106, 348, 191, 444)

label(957, 38, "Measured spike trains")
label(957, 83, "(input)")
label(711, 314, "Condition", size=27.5, rotation=90)
label(935, 505, "GO", size=22)
page.plot([788, 843], [157, 157], color="k", lw=8, solid_capstyle="butt")
label(817, 184, "200 ms", size=22.5)

label(1514, 33, "Neural")
label(1517, 71, "trajectories")
label(1451, 216, "Time")
label(1957, 51, "Vector-field")
page.annotate("", xy=(1788, 279), xytext=(1704, 279),
              arrowprops=dict(arrowstyle="-|>,head_length=22,head_width=15", color="k", lw=3.8,
                              mutation_scale=1, shrinkA=0, shrinkB=0))

label(372, 600, "MARBLE feature embedding")
l_bar(104, 990, 191, 1084)
page.plot([105, 154], [1085, 1038], color="k", lw=7.4, solid_capstyle="butt")
label(104, 963, r"$z_2$", size=36)
label(182, 1021, r"$z_3$", size=36)
label(226, 1086, r"$z_1$", size=36)

label(1083, 600, "Distribution distances")
label(856, 872, "Condition", rotation=90)
label(1076, 1085, "Condition")
label(1401, 746, r"$d(P_i,P_j)$", size=35, rotation=90)

label(1855, 590, "MDS embedding across")
label(1858, 634, "reach conditions")
label(1582, 937, "MDS dim 2", rotation=90)
label(1707, 1046, "MDS dim 1")
l_bar(1628, 906, 1714, 1002, lw=7.8)

label(369, 1238, "Single-session LFADS decoding")
label(46, 1760, "Position y", size=27, rotation=90)
label(163, 1859, "Position x", size=27)
l_bar(94, 1718, 181, 1814)

label(1030, 1238, "Single-session MARBLE decoding")
label(740, 1759, "Position y", size=27, rotation=90)
label(852, 1855, "Position x", size=27)
l_bar(783, 1714, 870, 1810)

label(1423, 1599, r"Accuracy, $R^2$", size=26, rotation=90)
label(1697, 1853, "Reach direction", size=29)
label(1697, 1897, "(final position)", size=29)
label(2029, 1853, "Instantaneous", size=29)
label(2029, 1897, "velocity", size=29)

fig.savefig("out.png", dpi=100)
